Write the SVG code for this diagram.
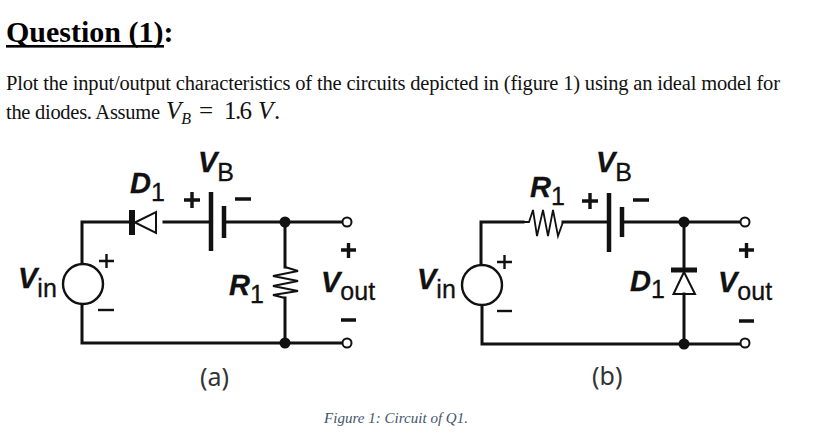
<svg xmlns="http://www.w3.org/2000/svg" width="819" height="444" viewBox="0 0 819 444">
<style>
.w{fill:none;stroke:#111;stroke-width:3;stroke-linecap:square}
.t{fill:none;stroke:#111;stroke-width:2}
.p{fill:none;stroke:#111;stroke-width:4.5}
.s{fill:none;stroke:#111;stroke-width:2.4}
.h{fill:none;stroke:#111;stroke-width:3.4}
.dot{fill:#111}
.term{fill:#fff;stroke:#111;stroke-width:2}
.src{fill:#fff;stroke:#111;stroke-width:2.4}
.c{font-family:"Liberation Sans",Arial,sans-serif;fill:#111}
.v{font-size:29px;font-style:italic;font-weight:bold;stroke:#111;stroke-width:0.3px}
.sub{font-size:25px;font-style:normal;font-weight:normal}
.body{font-family:"Liberation Serif","Times New Roman",serif;font-size:20.5px;fill:#111}
.m{font-family:"Liberation Serif","Times New Roman",serif;font-size:25px;fill:#111}
.i{font-style:italic}
.par{font-family:"Noto Sans",sans-serif;font-size:25px;fill:#333}
</style>
<rect width="819" height="444" fill="#fff"/>
<g id="heading">
<text x="6" y="42" font-family="Liberation Serif,serif" font-size="30" font-weight="bold" fill="#000">Question (1):</text>
<rect x="6" y="45" width="158" height="2.6" fill="#000"/>
</g>
<g id="statement">
<text class="body" x="6" y="90" textLength="774" lengthAdjust="spacing">Plot the input/output characteristics of the circuits depicted in (figure 1) using an ideal model for</text>
<text class="body" x="6" y="119" textLength="154" lengthAdjust="spacing">the diodes. Assume</text>
<text class="m i" x="166" y="119">V<tspan dy="5" style="font-size:16px">B</tspan></text>
<text class="m" x="199" y="119">=</text>
<text class="m" x="224" y="119" textLength="28">1.6</text>
<text class="m i" x="258" y="119">V</text>
<text class="m" x="274" y="119">.</text>
</g>
<g id="connectors">
<path class="w" d="M82 264V222H130M164 222H209M226 222H342M285 222V267M285 298V343M82 304V343H342"/>
<path class="w" d="M481 265V222H523M563 222H607M624 222H740M684 222V270M684 294V344M482 305V344H740"/>
</g>
<g id="a-vin">
<circle class="src" cx="83" cy="284" r="20"/>
<text class="c v" x="18" y="288">V<tspan class="sub" dy="9">in</tspan></text>
<path class="s" d="M99 261H114M106.500 254V268"/>
<path class="s" d="M98 310H114"/>
</g>
<g id="a-d1">
<path class="p" d="M132 210V235" style="stroke-width:6"/>
<path class="t" d="M135 222.500L156 212V233Z"/>
<text class="c v" x="130" y="193">D<tspan class="sub" dy="8">1</tspan></text>
</g>
<g id="a-vb">
<path class="p" d="M211 192V251M224 206V238"/>
<text class="c v" x="198" y="172">V<tspan class="sub" dy="9">B</tspan></text>
<path class="h" d="M184 200H200M192 192V208M235 199H251"/>
</g>
<g id="a-r1">
<path class="t" d="M285 267L298 271L273 276L298 281L273 286L298 291L273 295L285 298"/>
<text class="c v" x="229" y="295">R<tspan class="sub" dy="8">1</tspan></text>
</g>
<g id="a-out">
<circle class="dot" cx="285" cy="222" r="5.500"/>
<circle class="dot" cx="285" cy="343" r="5.500"/>
<circle class="term" cx="347" cy="222" r="4.500"/>
<circle class="term" cx="347" cy="343" r="4.500"/>
<path class="h" d="M341 250H356M348.500 243V258M341 320H356"/>
<text class="c v" x="321" y="292">V<tspan class="sub" dy="8">out</tspan></text>
</g>
<text id="a-label" class="par" x="200" y="386">(a)</text>
<g id="b-vin">
<circle class="src" cx="482" cy="285" r="20"/>
<text class="c v" x="417" y="289">V<tspan class="sub" dy="9">in</tspan></text>
<path class="s" d="M497 262H512M504.500 255V269"/>
<path class="s" d="M497 311H512"/>
</g>
<g id="b-r1">
<path class="t" d="M523 222L529 222L533 210L537 236L543 210L548 236L553 210L558 236L563 222" style="stroke-width:1.800"/>
<text class="c v" x="530" y="197">R<tspan class="sub" dy="8">1</tspan></text>
</g>
<g id="b-vb">
<path class="p" d="M609 193V252M622 207V237"/>
<text class="c v" x="596" y="172">V<tspan class="sub" dy="9">B</tspan></text>
<path class="h" d="M582 201H598M590 193V209M633 200H649"/>
</g>
<g id="b-d1">
<path class="p" d="M671 270H697" style="stroke-width:5"/>
<path class="t" d="M684 272L673.500 294H695Z"/>
<text class="c v" x="630" y="291">D<tspan class="sub" dy="7">1</tspan></text>
</g>
<g id="b-out">
<circle class="dot" cx="684" cy="222" r="5.500"/>
<circle class="dot" cx="684" cy="344" r="5.500"/>
<circle class="term" cx="745" cy="222" r="4.500"/>
<circle class="term" cx="745" cy="343" r="4.500"/>
<path class="h" d="M739 250H754M746.500 243V258M739 321H754"/>
<text class="c v" x="718" y="292">V<tspan class="sub" dy="8">out</tspan></text>
</g>
<text id="b-label" class="par" x="592" y="385">(b)</text>
<text id="caption" x="324" y="423" font-family="Liberation Serif,serif" font-size="15" font-style="italic" fill="#44546a" textLength="144">Figure 1: Circuit of Q1.</text>
</svg>
